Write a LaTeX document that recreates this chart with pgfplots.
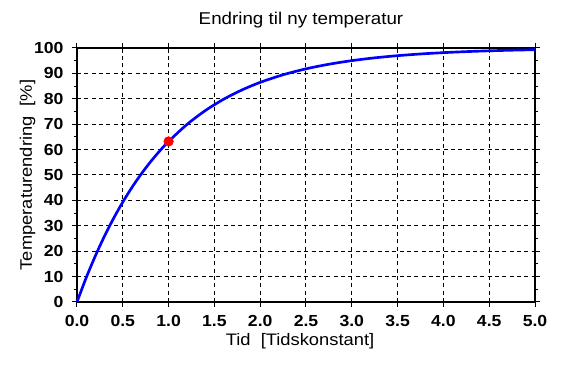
\documentclass[border=0pt]{standalone}
\usepackage{pgfplots}
\pgfplotsset{compat=1.18}
\usepackage{fontspec}
\setmainfont{Liberation Sans}[FakeStretch=1.1]
\begin{document}
\begin{tikzpicture}
\begin{axis}[
  scale only axis,
  width=343.5pt, height=190.5pt,
  xmin=0, xmax=5, ymin=0, ymax=100,
  xtick={0,0.5,...,5},
  ytick={0,10,...,100},
  minor y tick num=1,
  xticklabel style={/pgf/number format/fixed, /pgf/number format/fixed zerofill, /pgf/number format/precision=1, font=\fontsize{12pt}{14pt}\selectfont\bfseries, anchor=base, inner sep=0pt, yshift=-15pt},
  yticklabel style={font=\fontsize{12pt}{14pt}\selectfont\bfseries, anchor=east, inner sep=0pt, xshift=-6.5pt},
  /pgf/number format/assume math mode=true,
  tick align=outside,
  major tick length=3.5pt,
  minor tick length=2.5pt,
  tick style={black, line width=0.75pt},
  axis line style={black, line width=0.9pt},
  grid=major,
  major grid style={black, line width=0.75pt, dash pattern=on 3pt off 2.5pt},
  title={Endring til ny temperatur},
  title style={at={(0.5,1)}, anchor=base, yshift=11.25pt, xshift=-3.75pt, font=\fontsize{12.8pt}{15pt}\selectfont},
  xlabel={Tid\ \ [Tidskonstant]},
  xlabel style={at={(0.5,0)}, anchor=base, yshift=-33pt, xshift=-4.5pt, font=\fontsize{12.5pt}{14pt}\selectfont},
  ylabel={Temperaturendring\ \ [\%]},
  ylabel style={font=\fontsize{12.5pt}{14pt}\selectfont},
  every axis y label/.append style={at={(axis description cs:0,0.5)}, anchor=base, yshift=33.75pt},
  clip=false,
]
\addplot[blue, line width=2pt, smooth] coordinates {
(0,0) (0.1,9.516) (0.2,18.127) (0.3,25.918) (0.4,32.968) (0.5,39.347)
(0.6,45.119) (0.7,50.341) (0.8,55.067) (0.9,59.343) (1.0,63.212)
(1.2,69.881) (1.4,75.340) (1.6,79.810) (1.8,83.470) (2.0,86.466)
(2.25,89.460) (2.5,91.792) (2.75,93.607) (3.0,95.021) (3.25,96.124)
(3.5,96.980) (3.75,97.648) (4.0,98.168) (4.25,98.574) (4.5,98.889)
(4.75,99.135) (5.0,99.326)
};
\addplot[only marks, mark=*, mark size=3.6pt, red, mark options={fill=red, draw=red}] coordinates {(1.0,63.212)};
\coordinate (ll) at (rel axis cs:0,0);
\coordinate (ur) at (rel axis cs:1,1);
\end{axis}
\pgfresetboundingbox
\path ([shift={(-57.75pt,-51pt)}]ll) rectangle ([shift={(21.75pt,36pt)}]ur);
\end{tikzpicture}
\end{document}
